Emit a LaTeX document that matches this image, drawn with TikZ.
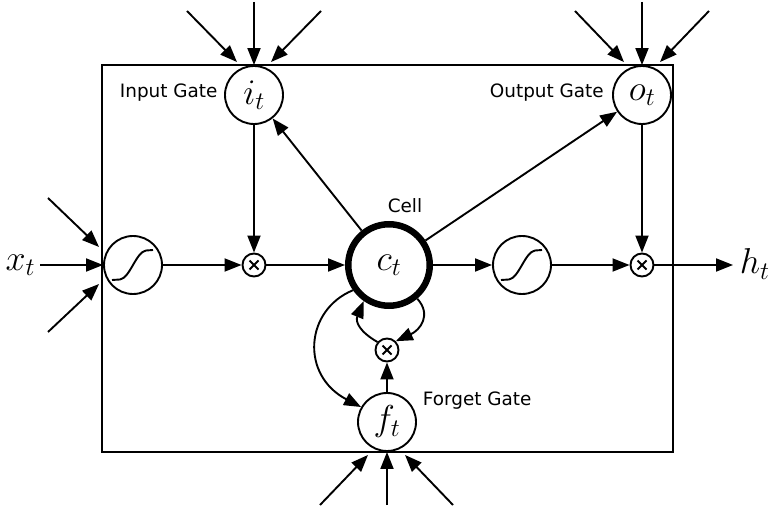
\RequirePackage{fix-cm}
\documentclass[tikz,border=0pt]{standalone}
\usepackage{fontspec}
\setmainfont{DejaVu Sans}
\usetikzlibrary{arrows.meta,calc}
\begin{document}
\begin{tikzpicture}[x=1pt,y=-1pt,line width=1.9pt,
  arr/.style={-{Triangle[length=17pt,width=13pt]}},
  mathf/.style={font=\fontsize{36}{36}\selectfont},
  gate/.style={circle,draw,fill=white,minimum size=58pt,inner sep=0pt,mathf},
  cellst/.style={circle,draw,fill=white,minimum size=81.5pt,inner sep=0pt,line width=6.5pt,mathf},
  sig/.style={circle,draw,fill=white,minimum size=58pt,inner sep=0pt},
  mult/.style={circle,draw,fill=white,minimum size=23pt,inner sep=0pt},
  lbl/.style={inner sep=0pt,anchor=base west,font=\fontsize{18.4}{20}\selectfont}]
\useasboundingbox (0,0) rectangle (782,518);
\fill[white] (0,0) rectangle (782,518);
% frame
\draw (102,65) rectangle (673,452);
% nodes
\node[gate] (i) at (254,95) {$i_t$};
\node[gate] (o) at (642,95) {$o_t$};
\node[gate] (f) at (387,422) {$f_t$};
\node[cellst] (c) at (389,265) {$c_t$};
\node[sig] (s1) at (133,265) {};
\node[sig] (s2) at (522,265) {};
\node[mult] (m1) at (254,265) {};
\node[mult] (m2) at (642,265) {};
\node[mult] (m3) at (387,350) {};
\node[inner sep=0pt,anchor=east,mathf] (xt) at (36,265) {$x_t$};
\node[inner sep=0pt,anchor=west,mathf] (ht) at (739,264) {$h_t$};
% symbols
\foreach \s in {s1,s2}
  \draw[shift={(\s.center)}] (-21,15) -- (-13,14.5) .. controls (-3,13) and (3,-13) .. (13,-14.5) -- (20,-15);
\foreach \m in {m1,m2,m3}
  \draw[shift={(\m.center)},line width=1.9pt] (-4.5,-4.5) -- (4.5,4.5) (-4.5,4.5) -- (4.5,-4.5);
% labels
\node[lbl] (li) at (119,98) {Input Gate};
\node[lbl] (lo) at (489,98) {Output Gate};
\node[lbl,anchor=base] (lc) at (405,213) {Cell};
\node[lbl] (lf) at (422,406) {Forget Gate};
% external inputs
\coordinate (ia1) at (187,11); \coordinate (ia2) at (254,2); \coordinate (ia3) at (321,11);
\coordinate (oa1) at (575,11); \coordinate (oa2) at (642,2); \coordinate (oa3) at (709,11);
\coordinate (fa1) at (320,505); \coordinate (fa2) at (387,505); \coordinate (fa3) at (453,505);
\coordinate (xa1) at (48,198); \coordinate (xa3) at (48,332);
\draw[arr] (ia1) -- ($(i.north)+(-17,-3)$);
\draw[arr] (ia2) -- (i.north);
\draw[arr] (ia3) -- ($(i.north)+(17,-3)$);
\draw[arr] (oa1) -- ($(o.north)+(-18,-3)$);
\draw[arr] (oa2) -- (o.north);
\draw[arr] (oa3) -- ($(o.north)+(18,-3)$);
\draw[arr] (fa1) -- ($(f.south)+(-19,3)$);
\draw[arr] (fa2) -- (f.south);
\draw[arr] (fa3) -- ($(f.south)+(18,3)$);
\draw[arr] (xa1) -- ($(s1.west)+(-4,-18)$);
\draw[arr] (xa3) -- ($(s1.west)+(-4,19)$);
\draw[arr] ([xshift=4pt]xt.east |- s1) -- (s1.west);
% internal
\draw[arr] (s1) -- (m1);
\draw[arr] (m1) -- (c);
\draw[arr] (c) -- (s2);
\draw[arr] (s2) -- (m2);
\draw[arr] (m2) -- ([xshift=-6pt]ht.west |- m2);
\draw[arr] (i) -- (m1);
\draw[arr] (o) -- (m2);
\draw[arr] (c) -- (i);
\draw[arr] (c) -- (o);
\draw[arr] (f) -- (m3);
\draw[arr] (m3.140) .. controls (360,332) and (355,322) .. (c.235);
\draw[arr] (c.-50) .. controls (432,315) and (420,330) .. (m3.45);
\draw[arr] (c.215) .. controls (305,310) and (300,375) .. (f.150);
\end{tikzpicture}
\end{document}
